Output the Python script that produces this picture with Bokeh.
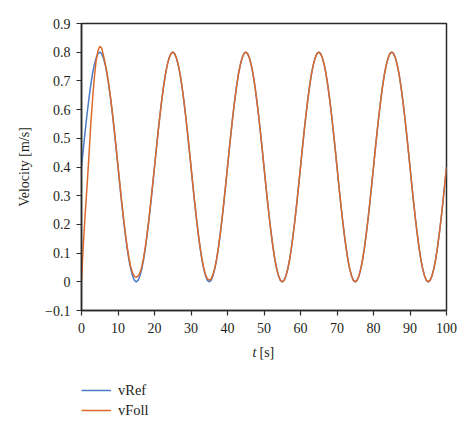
from bokeh.plotting import figure
from bokeh.layouts import column
from bokeh.models import FixedTicker, Legend, LegendItem, Label
from bokeh.embed import file_html
from bokeh.resources import INLINE

# ---- data ----
t_ref = [i * 0.5 for i in range(201)]
v_ref = [
    0.400, 0.463, 0.524, 0.582, 0.635, 0.683, 0.724, 0.756, 0.780, 0.795,
    0.800, 0.795, 0.780, 0.756, 0.724, 0.683, 0.635, 0.582, 0.524, 0.463,
    0.400, 0.337, 0.276, 0.218, 0.165, 0.117, 0.076, 0.044, 0.020, 0.005,
    0.000, 0.005, 0.020, 0.044, 0.076, 0.117, 0.165, 0.218, 0.276, 0.337,
    0.400, 0.463, 0.524, 0.582, 0.635, 0.683, 0.724, 0.756, 0.780, 0.795,
    0.800, 0.795, 0.780, 0.756, 0.724, 0.683, 0.635, 0.582, 0.524, 0.463,
    0.400, 0.337, 0.276, 0.218, 0.165, 0.117, 0.076, 0.044, 0.020, 0.005,
    0.000, 0.005, 0.020, 0.044, 0.076, 0.117, 0.165, 0.218, 0.276, 0.337,
    0.400, 0.463, 0.524, 0.582, 0.635, 0.683, 0.724, 0.756, 0.780, 0.795,
    0.800, 0.795, 0.780, 0.756, 0.724, 0.683, 0.635, 0.582, 0.524, 0.463,
    0.400, 0.337, 0.276, 0.218, 0.165, 0.117, 0.076, 0.044, 0.020, 0.005,
    0.000, 0.005, 0.020, 0.044, 0.076, 0.117, 0.165, 0.218, 0.276, 0.337,
    0.400, 0.463, 0.524, 0.582, 0.635, 0.683, 0.724, 0.756, 0.780, 0.795,
    0.800, 0.795, 0.780, 0.756, 0.724, 0.683, 0.635, 0.582, 0.524, 0.463,
    0.400, 0.337, 0.276, 0.218, 0.165, 0.117, 0.076, 0.044, 0.020, 0.005,
    0.000, 0.005, 0.020, 0.044, 0.076, 0.117, 0.165, 0.218, 0.276, 0.337,
    0.400, 0.463, 0.524, 0.582, 0.635, 0.683, 0.724, 0.756, 0.780, 0.795,
    0.800, 0.795, 0.780, 0.756, 0.724, 0.683, 0.635, 0.582, 0.524, 0.463,
    0.400, 0.337, 0.276, 0.218, 0.165, 0.117, 0.076, 0.044, 0.020, 0.005,
    0.000, 0.005, 0.020, 0.044, 0.076, 0.117, 0.165, 0.218, 0.276, 0.337,
    0.400,
]

t_foll = [i * 0.5 for i in range(201)]
v_foll = [
    0.000, 0.130, 0.235, 0.330, 0.430, 0.540, 0.630, 0.710, 0.770, 0.805,
    0.820, 0.815, 0.790, 0.760, 0.725, 0.685, 0.638, 0.585, 0.528, 0.467,
    0.405, 0.342, 0.281, 0.223, 0.170, 0.123, 0.083, 0.052, 0.031, 0.019,
    0.016, 0.020, 0.031, 0.052, 0.083, 0.123, 0.170, 0.223, 0.281, 0.340,
    0.400, 0.462, 0.523, 0.581, 0.634, 0.682, 0.723, 0.756, 0.780, 0.795,
    0.800, 0.795, 0.780, 0.757, 0.725, 0.684, 0.636, 0.583, 0.526, 0.465,
    0.402, 0.339, 0.278, 0.220, 0.167, 0.120, 0.080, 0.047, 0.024, 0.010,
    0.006, 0.010, 0.024, 0.047, 0.078, 0.118, 0.166, 0.219, 0.277, 0.338,
    0.400, 0.463, 0.524, 0.582, 0.635, 0.683, 0.724, 0.756, 0.780, 0.795,
    0.800, 0.795, 0.780, 0.756, 0.724, 0.683, 0.635, 0.582, 0.524, 0.463,
    0.400, 0.337, 0.276, 0.218, 0.165, 0.117, 0.076, 0.044, 0.020, 0.005,
    0.000, 0.005, 0.020, 0.044, 0.076, 0.117, 0.165, 0.218, 0.276, 0.337,
    0.400, 0.463, 0.524, 0.582, 0.635, 0.683, 0.724, 0.756, 0.780, 0.795,
    0.800, 0.795, 0.780, 0.756, 0.724, 0.683, 0.635, 0.582, 0.524, 0.463,
    0.400, 0.337, 0.276, 0.218, 0.165, 0.117, 0.076, 0.044, 0.020, 0.005,
    0.000, 0.005, 0.020, 0.044, 0.076, 0.117, 0.165, 0.218, 0.276, 0.337,
    0.400, 0.463, 0.524, 0.582, 0.635, 0.683, 0.724, 0.756, 0.780, 0.795,
    0.800, 0.795, 0.780, 0.756, 0.724, 0.683, 0.635, 0.582, 0.524, 0.463,
    0.400, 0.337, 0.276, 0.218, 0.165, 0.117, 0.076, 0.044, 0.020, 0.005,
    0.000, 0.005, 0.020, 0.044, 0.076, 0.117, 0.165, 0.218, 0.276, 0.337,
    0.400,
]

x_ticks = [0, 10, 20, 30, 40, 50, 60, 70, 80, 90, 100]
y_ticks = [-0.1, 0, 0.1, 0.2, 0.3, 0.4, 0.5, 0.6, 0.7, 0.8, 0.9]
y_tick_labels = ["\u22120.1", "0", "0.1", "0.2", "0.3", "0.4", "0.5", "0.6", "0.7", "0.8", "0.9"]
series_names = ["vRef", "vFoll"]

FONT = "Liberation Serif"
TXT = "#231f20"
AX = "#2b2b2b"
C_REF = "#4a7cc6"
C_FOLL = "#dc6a2c"

p = figure(width=466, height=340, x_range=(0, 100), y_range=(-0.1, 0.9),
           output_backend="svg", toolbar_location=None,
           min_border_left=81, min_border_right=20, min_border_top=23,
           min_border_bottom=30)
p.background_fill_color = "white"
p.border_fill_color = "white"
p.outline_line_color = AX
p.outline_line_width = 1.5
p.xgrid.visible = False
p.ygrid.visible = False

r_ref = p.line(t_ref, v_ref, line_color=C_REF, line_width=1.5)
r_foll = p.line(t_foll, v_foll, line_color=C_FOLL, line_width=1.5)

for ax in (p.xaxis[0], p.yaxis[0]):
    ax.axis_line_color = AX
    ax.axis_line_width = 1.5
    ax.major_tick_line_color = AX
    ax.major_tick_line_width = 1.2
    ax.major_tick_out = 5
    ax.major_tick_in = 0
    ax.minor_tick_line_color = None
    ax.major_label_text_font = FONT
    ax.major_label_text_font_size = "14px"
    ax.major_label_text_color = TXT

p.xaxis[0].ticker = FixedTicker(ticks=x_ticks)
p.xaxis[0].major_label_standoff = 7
p.yaxis[0].ticker = FixedTicker(ticks=y_ticks)
p.yaxis[0].major_label_overrides = {v: s for v, s in zip(y_ticks, y_tick_labels)}
p.yaxis[0].major_label_standoff = 6
p.yaxis[0].axis_label = "Velocity [m/s]"
p.yaxis[0].axis_label_text_font = FONT
p.yaxis[0].axis_label_text_font_size = "14px"
p.yaxis[0].axis_label_text_font_style = "normal"
p.yaxis[0].axis_label_text_color = TXT
p.yaxis[0].axis_label_standoff = 10

# lower strip: x-axis title and legend (its y range lies far above the data,
# so the key renderers only serve the legend)
p2 = figure(width=466, height=80, x_range=p.x_range, y_range=(10, 11),
            output_backend="svg", toolbar_location=None,
            x_axis_type=None, y_axis_type=None,
            min_border_left=81, min_border_right=20, min_border_top=0,
            min_border_bottom=0)
p2.outline_line_color = None
p2.xgrid.visible = False
p2.ygrid.visible = False
p2.background_fill_color = "white"
p2.border_fill_color = "white"

p2.add_layout(Label(x=50, y=68, x_units="data", y_units="screen", text="t",
                    x_offset=-7.5, text_align="right", text_baseline="middle",
                    text_font=FONT, text_font_size="14px", text_font_style="italic",
                    text_color=TXT))
p2.add_layout(Label(x=50, y=68, x_units="data", y_units="screen", text="[s]",
                    x_offset=-4.5, text_align="left", text_baseline="middle",
                    text_font=FONT, text_font_size="14px", text_color=TXT))

k_ref = p2.line(t_ref, v_ref, line_color=C_REF, line_width=1.5)
k_foll = p2.line(t_foll, v_foll, line_color=C_FOLL, line_width=1.5)
legend = Legend(items=[LegendItem(label=series_names[0], renderers=[k_ref]),
                       LegendItem(label=series_names[1], renderers=[k_foll])],
                location=(0, 0), orientation="vertical",
                padding=0, spacing=0, margin=0,
                glyph_width=30, glyph_height=20, label_standoff=7,
                label_text_font=FONT, label_text_font_size="14.5px",
                label_text_color=TXT,
                border_line_color=None, background_fill_alpha=0)
p2.add_layout(legend, "center")

layout = column(p, p2, spacing=0)
open("out.html", "w").write(file_html(layout, INLINE))
